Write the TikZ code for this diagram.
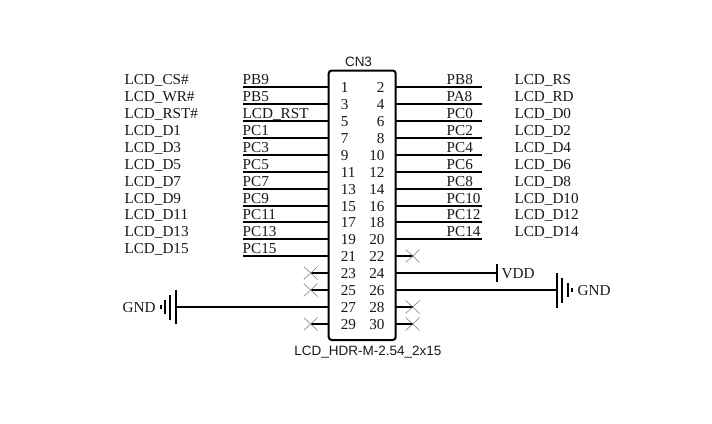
\documentclass[tikz,border=0pt]{standalone}
\usepackage{fontspec}
\setmainfont{Liberation Serif}
\setsansfont{Liberation Sans}
\tikzset{
  x=1pt,y=-1pt,
  wire/.style={draw=black,line width=2pt},
  ncx/.style={draw=black!55,line width=0.5pt},
  lbl/.style={inner sep=0pt,outer sep=0pt,anchor=base west,font=\fontsize{15.2}{15.2}\selectfont,text=black!90},
  pinl/.style={lbl},
  pinr/.style={lbl,anchor=base east},
  sanslbl/.style={lbl,font=\sffamily\fontsize{13.5}{13.5}\selectfont},
  hdr/.style={draw=black,line width=2pt,rounded corners=3pt,minimum width=67pt,minimum height=269.5pt,inner sep=0pt,outer sep=0pt,anchor=north west},
}
\begin{document}
\begin{tikzpicture}
\useasboundingbox (0,0) rectangle (712,423);
\fill[white] (0,0) rectangle (712,423);
\node[hdr] (box) at (328.7,70.5) {};
\node[sanslbl] (cn) at (345,66) {CN3};
\node[sanslbl] (fp) at (294.3,355) {LCD\_HDR-M-2.54\_2x15};
% pin numbers and pin anchor coordinates
\foreach \n [evaluate=\n as \yy using {int(87.5+(\n-1)*16.93)}, evaluate=\n as \ln using {int(2*\n-1)}, evaluate=\n as \rn using {int(2*\n)}] in {1,...,15}{
  \node[pinl] (pl\n) at (340.8,\yy+5.5) {\ln};
  \node[pinr] (pr\n) at (384.5,\yy+5.5) {\rn};
  \coordinate (L\n) at (box.west |- 0,\yy);
  \coordinate (R\n) at (box.east |- 0,\yy);
}
% left signal rows
\foreach \n/\net/\sig in {1/PB9/LCD\_CS\#,2/PB5/LCD\_WR\#,3/LCD\_RST/LCD\_RST\#,4/PC1/LCD\_D1,5/PC3/LCD\_D3,6/PC5/LCD\_D5,7/PC7/LCD\_D7,8/PC9/LCD\_D9,9/PC11/LCD\_D11,10/PC13/LCD\_D13,11/PC15/LCD\_D15}{
  \coordinate (EL\n) at (242.7,0 |- L\n);
  \draw[wire] (L\n) -- (EL\n);
  \node[lbl] (nl\n) at ([yshift=3pt]EL\n) {\net};
  \node[lbl] (sl\n) at ([xshift=-118.2pt,yshift=3pt]EL\n) {\sig};
}
% right signal rows
\foreach \n/\net/\sig in {1/PB8/LCD\_RS,2/PA8/LCD\_RD,3/PC0/LCD\_D0,4/PC2/LCD\_D2,5/PC4/LCD\_D4,6/PC6/LCD\_D6,7/PC8/LCD\_D8,8/PC10/LCD\_D10,9/PC12/LCD\_D12,10/PC14/LCD\_D14}{
  \coordinate (ER\n) at (481.7,0 |- R\n);
  \draw[wire] (R\n) -- (ER\n);
  \node[lbl] (nr\n) at ([xshift=-35pt,yshift=3pt]ER\n) {\net};
  \node[lbl] (sr\n) at ([xshift=32.8pt,yshift=3pt]ER\n) {\sig};
}
% no-connect pins
\foreach \s/\n in {L/12,L/13,L/15}{
  \coordinate (X\s\n) at ([xshift=-18pt]\s\n);
  \draw[wire] (\s\n) -- (X\s\n);
  \draw[ncx] ([shift={(-7,-6.5)}]X\s\n) -- ([shift={(7,6.5)}]X\s\n);
  \draw[ncx] ([shift={(-7,6.5)}]X\s\n) -- ([shift={(7,-6.5)}]X\s\n);
}
\foreach \s/\n in {R/11,R/14,R/15}{
  \coordinate (X\s\n) at ([xshift=17pt]\s\n);
  \draw[wire] (\s\n) -- (X\s\n);
  \draw[ncx] ([shift={(-7,-6.5)}]X\s\n) -- ([shift={(7,6.5)}]X\s\n);
  \draw[ncx] ([shift={(-7,6.5)}]X\s\n) -- ([shift={(7,-6.5)}]X\s\n);
}
% VDD
\coordinate (vdd) at (497.3,0 |- R12);
\draw[wire] (R12) -- (vdd);
\draw[wire] ([yshift=-8.7pt]vdd) -- ([yshift=8.7pt]vdd);
\node[lbl] (vddt) at ([xshift=4.4pt,yshift=-5pt]vdd) {VDD};
% GND right
\coordinate (gr) at (556.7,0 |- R13);
\draw[wire] (R13) -- (gr);
\draw[wire] ([yshift=-17.5pt]gr) -- ([yshift=17.5pt]gr);
\draw[wire] ([shift={(5.6,-12.5)}]gr) -- ([shift={(5.6,12.5)}]gr);
\draw[wire] ([shift={(11,-7.2)}]gr) -- ([shift={(11,7.2)}]gr);
\draw[wire] ([shift={(15.6,-2.4)}]gr) -- ([shift={(15.6,2.4)}]gr);
\node[lbl] (grt) at ([xshift=21pt,yshift=-5.3pt]gr) {GND};
% GND left
\coordinate (gl) at (175.7,0 |- L14);
\draw[wire] (L14) -- (gl);
\draw[wire] ([yshift=-17.3pt]gl) -- ([yshift=17.3pt]gl);
\draw[wire] ([shift={(-5.7,-12.5)}]gl) -- ([shift={(-5.7,12.5)}]gl);
\draw[wire] ([shift={(-10.7,-7.2)}]gl) -- ([shift={(-10.7,7.2)}]gl);
\draw[wire] ([shift={(-15,-2.4)}]gl) -- ([shift={(-15,2.4)}]gl);
\node[lbl] (glt) at ([xshift=-53pt,yshift=-5pt]gl) {GND};
\end{tikzpicture}
\end{document}
